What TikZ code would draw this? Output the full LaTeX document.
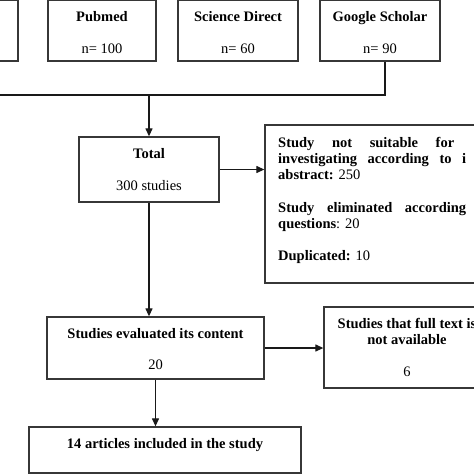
\documentclass[tikz,border=0pt]{standalone}
\usepackage{fontspec}
\setmainfont{Liberation Serif}
\usetikzlibrary{arrows.meta}
\definecolor{boxc}{RGB}{55,55,55}
\begin{document}
\begin{tikzpicture}[x=1pt,y=-1pt,
  box/.style={draw=boxc, line width=1.3pt, inner sep=0pt, rectangle},
  txt/.style={inner sep=0pt, anchor=base, font=\fontsize{14.5}{16}\selectfont},
  btxt/.style={txt, font=\fontsize{14.5}{16}\selectfont\bfseries},
  ltxt/.style={inner sep=0pt, anchor=base west, font=\fontsize{14.5}{16}\selectfont\bfseries},
  conn/.style={draw=black!90, line width=1.2pt},
  arr/.style={conn, -{Triangle[length=8pt,width=7pt]}}]
\useasboundingbox (0,0) rectangle (474,474);
\clip (0,0) rectangle (474,474);
\fill[white] (0,0) rectangle (474,474);
% boxes
\node[box, minimum width=118pt, minimum height=60.7pt] (src) at (-41,30.65) {};
\node[box, minimum width=108pt, minimum height=60.7pt] (pub) at (102,30.65) {};
\node[box, minimum width=120pt, minimum height=60.7pt] (sci) at (238,30.65) {};
\node[box, minimum width=120pt, minimum height=60.7pt] (goo) at (380,30.65) {};
\node[box, minimum width=140pt, minimum height=65pt] (total) at (149,169.5) {};
\node[box, minimum width=295pt, minimum height=158pt] (excl) at (412.5,204) {};
\node[box, minimum width=217pt, minimum height=62pt] (eval) at (155.5,348) {};
\node[box, minimum width=166pt, minimum height=81pt] (nofull) at (407,347.5) {};
\node[box, minimum width=272pt, minimum height=46pt] (incl) at (165,450) {};
% texts
\node[btxt] (pubT) at (102,21) {Pubmed};
\node[txt] (pubN) at (102,53) {n= 100};
\node[btxt] (sciT) at (238,21) {Science Direct};
\node[txt] (sciN) at (238,53) {n= 60};
\node[btxt] (gooT) at (380,21) {Google Scholar};
\node[txt] (gooN) at (380,53) {n= 90};
\node[btxt] (totT) at (149,158) {Total};
\node[txt] (totN) at (149,190) {300 studies};
\node[ltxt] (e1) at (278,147) {\makebox[176pt][s]{Study not suitable for}};
\node[ltxt] (e2) at (278,163) {\makebox[188pt][s]{investigating according to i}};
\node[ltxt] (e3) at (278,179) {abstract: \mdseries 250};
\node[ltxt] (e4) at (278,212.5) {\makebox[188pt][s]{Study eliminated according}};
\node[ltxt] (e5) at (278,228.5) {questions\mdseries: 20};
\node[ltxt] (e6) at (278,260) {Duplicated: \mdseries 10};
\node[btxt] (evT) at (155.5,338) {Studies evaluated its content};
\node[txt] (evN) at (155.5,369) {20};
\node[btxt] (nfT1) at (407,328) {Studies that full text is};
\node[btxt] (nfT2) at (407,344) {not available};
\node[txt] (nfN) at (407,376) {6};
\node[btxt] (inT) at (165,448) {14 articles included in the study};
% connectors
\coordinate (j) at (385,95);
\coordinate (lft) at (-5,95);
\coordinate (m) at (149,95);
\draw[conn] (goo.south -| j) -- (j) -- (lft);
\draw[arr] (m) -- (total.north);
\draw[arr] (total.east) -- (excl.west |- total.east);
\draw[arr] (total.south) -- (total.south |- eval.north);
\draw[arr] (eval.east) -- (nofull.west |- eval.east);
\draw[arr] (eval.south) -- (eval.south |- incl.north);
\end{tikzpicture}
\end{document}
